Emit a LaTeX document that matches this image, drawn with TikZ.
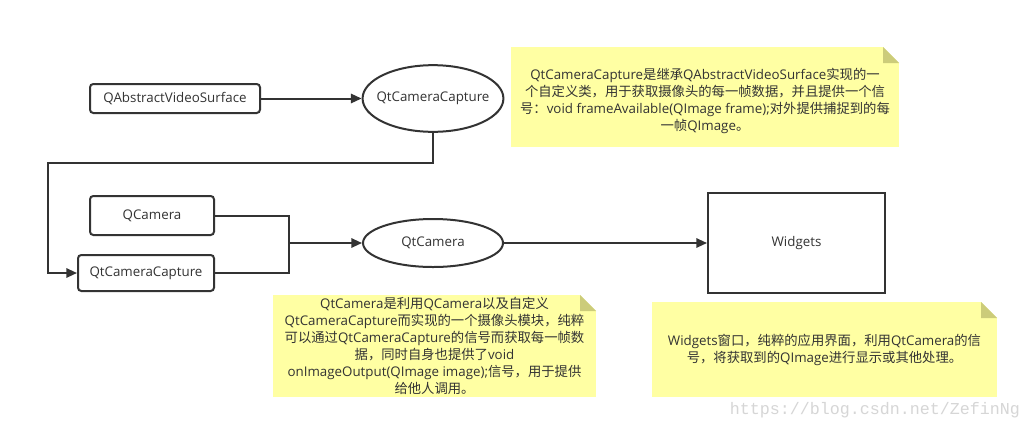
\documentclass[tikz,border=0pt]{standalone}
\usepackage{fontspec}
\setmainfont{Open Sans}
\newfontfamily\latfont{Open Sans}
\newfontfamily\cjkfont{Noto Sans CJK SC}
\newfontfamily\markfont{Liberation Mono}
% switch to the CJK font for ideographs and full-width punctuation
\newXeTeXintercharclass\cjkclass
\makeatletter
\def\setcjkrange#1#2{\count@=#1\relax
  \loop\XeTeXcharclass\count@=\cjkclass\advance\count@\@ne
  \ifnum\count@<#2\relax\repeat}
\makeatother
\setcjkrange{"3000}{"3100}
\setcjkrange{"4E00}{"A000}
\setcjkrange{"FF00}{"FFF0}
\XeTeXinterchartokenstate=1
\XeTeXinterchartoks 0 \cjkclass = {\cjkfont}
\XeTeXinterchartoks 4095 \cjkclass = {\cjkfont}
\XeTeXinterchartoks \cjkclass 0 = {\latfont}
\XeTeXinterchartoks \cjkclass 4095 = {\latfont}
\usepackage{tikz}
\usetikzlibrary{shapes.geometric, arrows.meta}
\usepackage{xcolor}
\definecolor{ink}{RGB}{51,51,51}
\definecolor{notefill}{RGB}{255,255,163}
\definecolor{notefold}{RGB}{204,204,122}
\tikzstyle{arrow} = [line width=1.5pt,-{Triangle[length=8pt,width=7pt]},draw=ink]
\tikzstyle{link} = [line width=1.5pt,draw=ink]

\begin{document}
\begin{tikzpicture}[
    x=0.75pt, y=-0.75pt,
    every node/.style={font=\fontsize{10}{12.75}\selectfont, text=ink},
    cls-box/.style={draw=ink, line width=1.5pt, rounded corners=2.5pt, inner sep=0pt},
    mod-ell/.style={ellipse, draw=ink, line width=1.5pt, inner xsep=-5pt, inner ysep=0pt},
    note-box/.style={fill=notefill, inner sep=0pt, align=center,
      path picture={
        \fill[white] ([xshift=-12pt]path picture bounding box.north east)
          -- (path picture bounding box.north east)
          -- ([yshift=-12pt]path picture bounding box.north east) -- cycle;
        \fill[notefold] ([xshift=-12pt]path picture bounding box.north east)
          -- ([xshift=-12pt,yshift=-12pt]path picture bounding box.north east)
          -- ([yshift=-12pt]path picture bounding box.north east) -- cycle;
      }}
  ]

  \useasboundingbox[fill=white] (0,0) rectangle (1030,429);

  % classes and modules
  \node[cls-box, minimum width=127.5pt, minimum height=21.75pt] (avs) at (175,98.5) {QAbstractVideoSurface};
  \node[mod-ell, minimum width=105pt, minimum height=50pt] (cap) at (433,98.5) {QtCameraCapture};
  \node[cls-box, minimum width=93pt, minimum height=29.25pt] (qcam) at (152,215.5) {QCamera};
  \node[cls-box, minimum width=102pt, minimum height=27pt] (capbox) at (146,273) {QtCameraCapture};
  \node[mod-ell, minimum width=105pt, minimum height=36pt] (cam) at (433,243) {QtCamera};
  \node[draw=ink, line width=1.5pt, minimum width=132.75pt, minimum height=75pt] (wid) at (796.5,243) {Widgets};

  % notes
  \node[note-box, minimum width=291pt, minimum height=75pt] (note1) at (705,97)
    {\rule{0pt}{15pt}QtCameraCapture是继承QAbstractVideoSurface实现的一\\
     个自定义类，用于获取摄像头的每一帧数据，并且提供一个信\\
     号：void frameAvailable(QImage frame);对外提供捕捉到的每\\
     一帧QImage。};
  \node[note-box, minimum width=242.25pt, minimum height=76.5pt] (note2) at (434.5,346)
    {QtCamera是利用QCamera以及自定义\\
     QtCameraCapture而实现的一个摄像头模块，纯粹\\
     可以通过QtCameraCapture的信号而获取每一帧数\\
     据，同时自身也提供了void\\
     onImageOutput(QImage image);信号，用于提供\\
     给他人调用。};
  \node[note-box, minimum width=258.75pt, minimum height=71.25pt] (note3) at (824.5,349.5)
    {Widgets窗口，纯粹的应用界面，利用QtCamera的信\\
     号，将获取到的QImage进行显示或其他处理。};

  % connectors
  \coordinate (turn) at (48,163);
  \coordinate (join) at (289,243);
  \draw[arrow] (avs.east) -- (cap.west);
  \draw[arrow] (cap.south) |- (turn) |- (capbox.west);
  \draw[link] (qcam.east) -| (join);
  \draw[link] (capbox.east) -| (join);
  \draw[arrow] (join) -- (cam.west);
  \draw[arrow] (cam.east) -- (cam.east -| wid.west);

  \node[font=\markfont\fontsize{12.5}{14}\selectfont, text=black!16] (mark) at (875,410) {https://blog.csdn.net/ZefinNg};

\end{tikzpicture}
\end{document}
